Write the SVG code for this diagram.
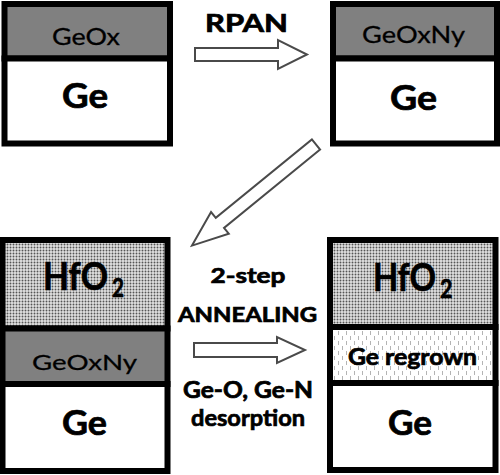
<svg xmlns="http://www.w3.org/2000/svg" width="500" height="475" viewBox="0 0 500 475">
<defs>
<pattern id="dots" width="3" height="3" patternUnits="userSpaceOnUse">
<rect width="3" height="3" fill="#e2e2e2"/>
<circle cx="1.5" cy="1.5" r="0.95" fill="#555"/>
</pattern>
<pattern id="dash" width="8" height="10" patternUnits="userSpaceOnUse">
<rect width="8" height="10" fill="#ffffff"/>
<rect x="2" y="1" width="1" height="4" fill="#b4b4b4"/>
<rect x="6" y="6" width="1" height="4" fill="#b4b4b4"/>
</pattern>
</defs>
<style>
.b{stroke:#000;stroke-width:6}
.ox{fill:#808080}
.w{fill:#fff}
.t{font-family:Lato,"Liberation Sans",sans-serif;text-anchor:middle;fill:#000}
.s{font-family:Lato,"Liberation Sans",sans-serif;fill:#000}
.r{font-weight:400;stroke:#000;stroke-width:0.3}
.bd{font-weight:700;stroke:#000;stroke-width:0.7}
.arr{fill:#fff;stroke:#4a4a4a;stroke-width:2;stroke-linejoin:miter}
</style>
<rect width="500" height="475" fill="#fff"/>
<g id="node-geox">
<rect x="4.5" y="4" width="165.5" height="54.5" class="b ox"/>
<rect x="4.5" y="58.5" width="165.5" height="85" class="b w"/>
<text x="86" y="45" class="t r" font-size="24" textLength="68" lengthAdjust="spacingAndGlyphs">GeOx</text>
<text x="85" y="108" class="t bd" font-size="34" textLength="46" lengthAdjust="spacingAndGlyphs">Ge</text>
</g>
<g id="node-geoxny">
<rect x="333" y="4" width="164" height="54.5" class="b ox"/>
<rect x="333" y="58.5" width="164" height="85" class="b w"/>
<text x="413.5" y="43" class="t r" font-size="24" textLength="103" lengthAdjust="spacingAndGlyphs">GeOxNy</text>
<text x="413.5" y="110" class="t bd" font-size="34" textLength="47" lengthAdjust="spacingAndGlyphs">Ge</text>
</g>
<g id="node-hfo2-before">
<rect x="2.5" y="240" width="165" height="88.5" class="b" fill="url(#dots)"/>
<rect x="2.5" y="328.5" width="165" height="55.5" class="b ox"/>
<rect x="2.5" y="384" width="165" height="87" class="b w"/>
<text class="s bd" font-size="39" y="290" x="43" textLength="65" lengthAdjust="spacingAndGlyphs">HfO</text>
<text class="s bd" font-size="26" y="297" x="112" textLength="12" lengthAdjust="spacingAndGlyphs">2</text>
<text x="84.5" y="370" class="t r" font-size="22" textLength="105" lengthAdjust="spacingAndGlyphs">GeOxNy</text>
<text x="84.5" y="435" class="t bd" font-size="34" textLength="45" lengthAdjust="spacingAndGlyphs">Ge</text>
</g>
<g id="node-hfo2-after">
<rect x="330" y="240" width="165.5" height="87" class="b" fill="url(#dots)"/>
<rect x="330" y="327" width="165.5" height="56" class="b" fill="url(#dash)"/>
<rect x="330" y="383" width="165.5" height="87" class="b w"/>
<text class="s bd" font-size="39" y="291" x="373" textLength="63" lengthAdjust="spacingAndGlyphs">HfO</text>
<text class="s bd" font-size="26" y="298" x="440" textLength="12.5" lengthAdjust="spacingAndGlyphs">2</text>
<text x="412.5" y="365" class="t bd" font-size="22" textLength="129" lengthAdjust="spacingAndGlyphs">Ge regrown</text>
<text x="410" y="435" class="t bd" font-size="34" textLength="44" lengthAdjust="spacingAndGlyphs">Ge</text>
</g>
<g id="connectors">
<polygon class="arr" points="195,48 278,48 278,40 307,54.5 278,69 278,61 195,61"/>
<polygon class="arr" transform="translate(316,144.5) rotate(140.8)" points="0,-6.5 124,-6.5 124,-14 160,0 124,14 124,6.5 0,6.5"/>
<polygon class="arr" points="194,343 277,343 277,337 305,350 277,363 277,357 194,357"/>
</g>
<g id="labels">
<text x="246.5" y="32" class="t bd" font-size="24" textLength="83" lengthAdjust="spacingAndGlyphs">RPAN</text>
<text x="248" y="283" class="t bd" font-size="21" textLength="75" lengthAdjust="spacingAndGlyphs">2-step</text>
<text x="247.5" y="322" class="t bd" font-size="20" textLength="139" lengthAdjust="spacingAndGlyphs">ANNEALING</text>
<text x="248" y="398" class="t bd" font-size="22" textLength="130" lengthAdjust="spacingAndGlyphs">Ge-O, Ge-N</text>
<text x="248" y="426" class="t bd" font-size="22" textLength="114" lengthAdjust="spacingAndGlyphs">desorption</text>
</g>
</svg>
